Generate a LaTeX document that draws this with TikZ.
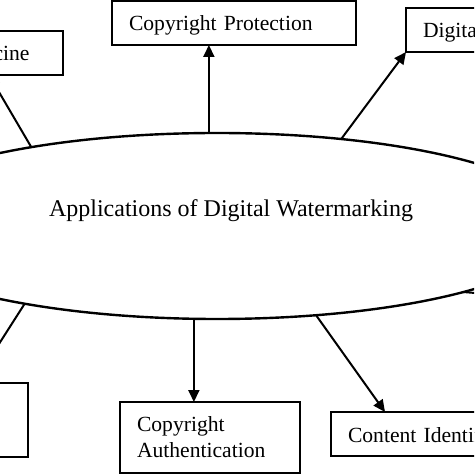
\documentclass[tikz,border=0pt]{standalone}
\usepackage{fontspec}
\setmainfont{Liberation Serif}
\usetikzlibrary{shapes.geometric,arrows.meta}

\begin{document}
\begin{tikzpicture}[x=0.5pt,y=-0.5pt,line width=1pt,>={Triangle[length=6pt,width=5.5pt]}]
    \tikzstyle{app box}=[draw,line width=0.65pt,outer sep=0pt,inner xsep=8.5pt,inner ysep=0pt,align=left,font=\fontsize{10.8}{13}\selectfont]
    \tikzstyle{short box}=[app box,minimum height=22pt,text height=10.5pt,text depth=2.5pt]
    \tikzstyle{main ellipse}=[draw,ellipse,line width=1.2pt,outer sep=0pt,minimum width=350pt,minimum height=93pt]
    \useasboundingbox (0,0) rectangle (474,474);
    \clip (0,0) rectangle (474,474);
    \path
    % Central ellipse
    (217,226) node[main ellipse] (apps) {}
    (231,211) node[font=\fontsize{12}{14}\selectfont] (appstitle) {Applications of Digital Watermarking}

    % Upper boxes
    (63,53)   node[short box, anchor=east, text width=49pt]  (medicine) {Medicine}
    (112,23)  node[short box, anchor=west, text width=105pt] (cprot) {Copyright Protection}
    (406,30)  node[short box, anchor=west, text width=110pt] (cdig) {Digital Fingerprinting}

    % Lower boxes
    (28,420)  node[app box, anchor=east, minimum width=60pt, minimum height=37pt] (lowleft) {}
    (120,402) node[app box, anchor=north west, text width=73pt, minimum height=35.5pt] (cauth) {Copyright\\Authentication}
    (331,434) node[short box, anchor=west, text width=110pt] (cont) {Content Identification};

    \coordinate (offright) at (560,300);

    % Link the ellipse to the boxes
    \draw[->] (apps.95.5) -- (apps.95.5 |- cprot.south);
    \draw[->] (apps.35.7) -- (cdig.south west);
    \draw[->] (apps.157.7) -- ([xshift=-37pt]medicine.south east);
    \draw[->] (apps.202.8) -- ([xshift=-27pt]lowleft.north east);
    \draw[->] (apps.256.2) -- (apps.256.2 |- cauth.north);
    \draw[->] (apps.318.5) -- ([xshift=27pt]cont.north west);
    \draw[->] (apps.345) -- (offright);
\end{tikzpicture}
\end{document}
